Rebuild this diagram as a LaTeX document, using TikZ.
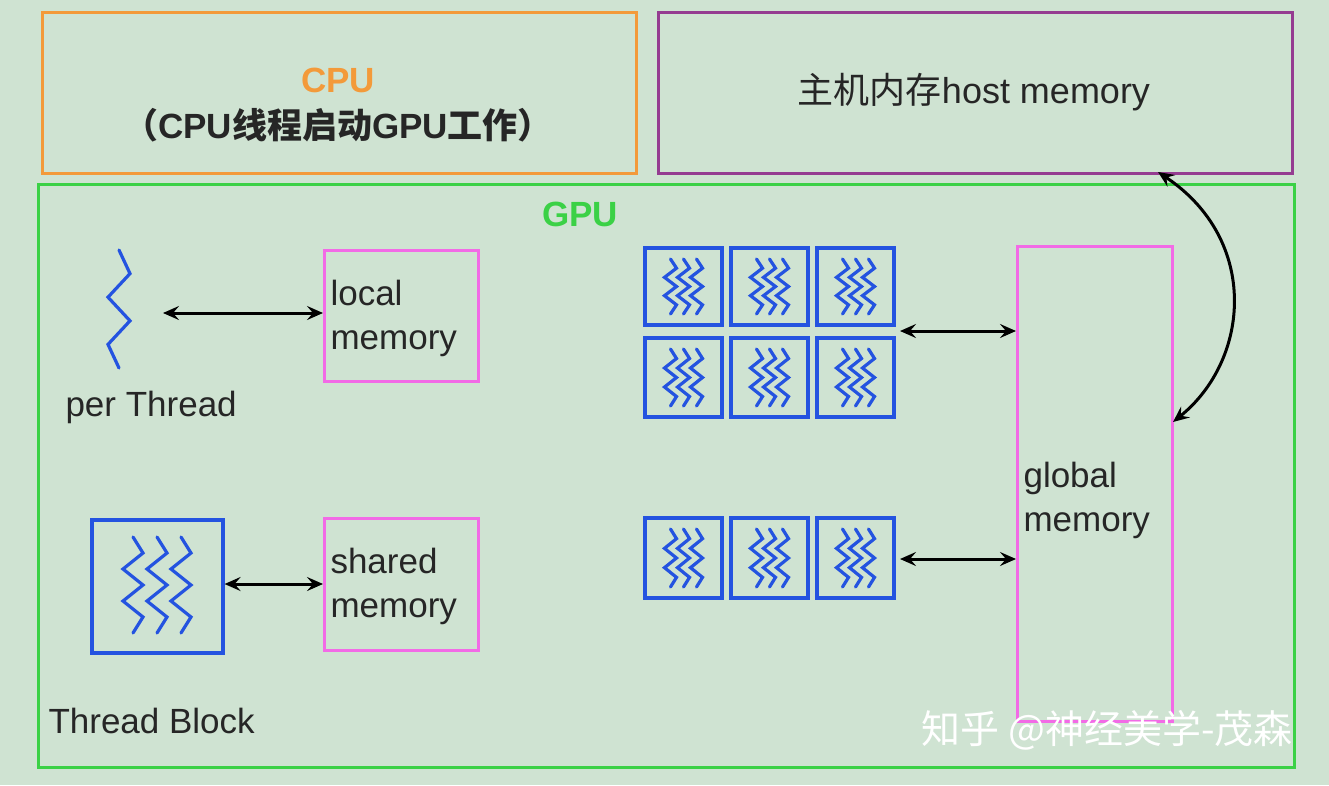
\documentclass[tikz,border=0pt]{standalone}
\usepackage{fontspec}
\setmainfont{Liberation Sans}
\newfontfamily\cjk{Noto Sans CJK SC}
\usetikzlibrary{arrows.meta}
\definecolor{bg}{HTML}{CFE3D2}
\definecolor{cpuc}{HTML}{F39A3A}
\definecolor{hostc}{HTML}{953C91}
\definecolor{gpuc}{HTML}{3BD146}
\definecolor{memc}{HTML}{F26BE6}
\definecolor{thc}{HTML}{2453E0}
% x y height halfwidth segments(even)
\newcommand\zz[5]{%
  \draw[thc,line width=3.2pt,line join=miter,line cap=round] (#1,#2)
    \foreach \k in {1,...,#5}{ -- ++({ifthenelse(\k==1 || \k==#5,1,2)*ifthenelse(mod(\k,2)==1,1,-1)*#4},{#3/#5}) };}
\newcommand\blk[4]{% x1 y1 x2 y2 small block
  \draw[thc,line width=3.6pt] (#1,#2) rectangle (#3,#4);
  \pgfmathsetmacro\hh{#4-#2-22}
  \pgfmathsetmacro\cx{(#1+#3)/2}
  \zz{\cx-13}{#2+11}{\hh}{6}{6}\zz{\cx}{#2+11}{\hh}{6}{6}\zz{\cx+13}{#2+11}{\hh}{6}{6}}
\begin{document}
\begin{tikzpicture}[x=1pt,y=-1pt,
  txt/.style={font=\fontsize{35}{44}\selectfont,text=black!85,align=left,anchor=west},
  bx/.style={line width=3.2pt,anchor=north west,inner sep=0},
  arr/.style={{Stealth[length=16pt,width=14pt,inset=6pt]}-{Stealth[length=16pt,width=14pt,inset=6pt]},line width=3pt}]
\fill[bg] (0,0) rectangle (1329,785);
\useasboundingbox (0,0) rectangle (1329,785);
\node[bx,draw=cpuc,minimum width=594pt,minimum height=161pt] (cpu) at (41,11) {};
\node[font=\fontsize{35}{44}\selectfont\bfseries,text=cpuc] at (338,80) {CPU};
\node[font=\fontsize{35}{44}\selectfont\bfseries,text=black!85] at (338,125) {{\cjk （}CPU{\cjk 线程启动}GPU{\cjk 工作）}};
\node[bx,draw=hostc,minimum width=634pt,minimum height=161pt] (host) at (657,11) {};
\node[font=\fontsize{36}{44}\selectfont,text=black!85] at (974,92) {{\cjk 主机内存}host memory};
\node[bx,draw=gpuc,minimum width=1256pt,minimum height=583pt] (gpu) at (37,183) {};
\node[font=\fontsize{35}{44}\selectfont\bfseries,text=gpuc] at (580,214) {GPU};
% memories
\node[bx,draw=memc,minimum width=154pt,minimum height=131pt] (local) at (323,249) {};
\node[txt] at (327,318) {local\\memory};
\node[bx,draw=memc,minimum width=154pt,minimum height=132pt] (shared) at (323,517) {};
\node[txt] at (327,586) {shared\\memory};
\node[bx,draw=memc,minimum width=155pt,minimum height=475pt] (global) at (1016,245) {};
\node[txt] at (1020,500) {global\\memory};
% threads
\zz{119}{250}{118}{11}{5}
\coordinate (th) at (163,313);
\node[txt] at (62,407) {per Thread};
\node[bx,draw=thc,line width=3.6pt,minimum width=131pt,minimum height=133pt] (tb) at (90,518) {};
\zz{133}{537}{96}{10}{6}\zz{157}{537}{96}{10}{6}\zz{181}{537}{96}{10}{6}
\node[txt] at (45,721) {Thread Block};
\blk{645}{248}{722}{325}\blk{731}{248}{808}{325}\blk{817}{248}{894}{325}
\blk{645}{338}{722}{417}\blk{731}{338}{808}{417}\blk{817}{338}{894}{417}
\blk{645}{518}{722}{598}\blk{731}{518}{808}{598}\blk{817}{518}{894}{598}
\coordinate (g1) at (900,331);
\coordinate (g2) at (900,559);
% arrows
\draw[arr] (th) -- (local.west |- th);
\draw[arr] (tb.east |- 0,584) -- (shared.west |- 0,584);
\draw[arr] (g1) -- (global.west |- g1);
\draw[arr] (g2) -- (global.west |- g2);
\draw[arr] (1158,172) .. controls (1260,240) and (1250,360) .. (1173,422);
\node[font=\fontsize{39}{46}\selectfont\cjk,text=white,anchor=west] at (918,730) {知乎 @神经美学-茂森};
\end{tikzpicture}
\end{document}
